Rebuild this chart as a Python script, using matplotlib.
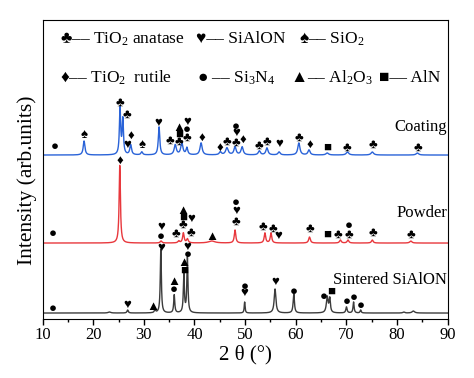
import numpy as np
import matplotlib
matplotlib.use('Agg')
import matplotlib.pyplot as plt
import matplotlib.ticker as ticker

plt.rcParams['font.family'] = ['Liberation Serif', 'DejaVu Sans']
plt.rcParams['mathtext.fontset'] = 'custom'
plt.rcParams['mathtext.rm'] = 'Liberation Serif'
plt.rcParams['mathtext.it'] = 'Liberation Serif'

# peak lists: (2theta, height above baseline, fwhm)
coating_base = 164
coating_peaks = [(18.2, 14, 0.4), (25.3, 46, 0.3), (25.85, 35, 0.3), (27.4, 10, 0.4),
                 (29.6, 3, 0.4), (33.0, 28, 0.35), (36.2, 10, 0.5), (37.5, 12, 0.5),
                 (38.5, 7, 0.4), (41.3, 12, 0.5), (45.1, 3, 0.5), (46.4, 7, 0.6),
                 (48.0, 8, 0.5), (49.4, 8, 0.5), (52.8, 4, 0.5), (54.3, 7, 0.5),
                 (56.7, 3, 0.5), (60.6, 12, 0.5), (62.6, 5, 0.5), (66.2, 2, 0.6),
                 (70.2, 3, 0.6), (75.1, 3, 0.6), (84.0, 2, 0.6)]

powder_base = 76
powder_peaks = [(25.25, 78, 0.3), (33.4, 2, 0.4), (36.9, 2, 0.4), (37.8, 10, 0.35),
                (38.6, 4, 0.4), (43.4, 2, 1.5), (48.0, 13, 0.35), (53.9, 10, 0.35),
                (55.1, 10, 0.35), (62.7, 6, 0.4), (68.8, 3, 0.4), (70.3, 3, 0.4),
                (75.1, 3, 0.4), (82.7, 2, 0.5)]

sintered_base = 6
sintered_peaks = [(23.2, 1, 0.6), (26.8, 3, 0.3), (32.2, 3, 0.3), (33.35, 64, 0.25),
                  (36.0, 18, 0.25), (37.9, 38, 0.25), (38.6, 55, 0.25), (49.9, 11, 0.2),
                  (55.9, 24, 0.4), (59.6, 19, 0.3), (66.2, 16, 0.4), (66.7, 14, 0.3),
                  (70.0, 6, 0.3), (71.4, 11, 0.25), (72.8, 3, 0.25), (81.3, 1, 0.4),
                  (83.2, 2, 0.6)]

# phase markers: (2theta, offset above baseline, symbol)
coating_marks = [(12.5, 8, '●'), (18.2, 20, '♠'), (25.2, 52, '♣'), (26.7, 40, '♣'),
                 (26.7, 10, '♥'), (27.5, 19, '♦'), (29.6, 10, '♠'), (32.8, 32, '♥'),
                 (35.2, 14, '♣'), (37.0, 27, '▲'), (37.0, 20, '■'), (37.0, 13, '♣'),
                 (38.5, 33, '♥'), (38.5, 25, '●'), (38.5, 17, '♣'), (41.5, 17, '♦'),
                 (45.1, 7, '♦'), (46.5, 13, '♣'), (48.2, 28, '●'), (48.2, 22, '♥'),
                 (48.2, 12, '♣'), (49.6, 15, '♦'), (52.8, 9, '♣'), (54.4, 13, '♣'),
                 (56.7, 11, '♥'), (60.7, 17, '♣'), (62.7, 10, '♦'), (66.2, 7, '■'),
                 (70.2, 7, '♣'), (75.2, 10, '♣'), (84.1, 7, '♣')]

powder_marks = [(12.1, 9, '●'), (25.2, 82, '♦'), (33.4, 16, '♥'), (33.4, 6, '●'),
                (36.4, 9, '♣'), (37.8, 32, '▲'), (37.8, 25, '■'), (37.8, 18, '♣'),
                (39.3, 24, '♥'), (39.3, 10, '♣'), (43.4, 6, '▲'), (48.2, 40, '●'),
                (48.2, 32, '♥'), (48.2, 21, '♣'), (53.6, 16, '♣'), (55.4, 14, '♣'),
                (56.5, 7, '♥'), (62.7, 14, '♣'), (66.2, 8, '■'), (68.4, 8, '♣'),
                (70.4, 8, '♣'), (70.4, 17, '●'), (75.2, 10, '♣'), (82.8, 8, '♣')]

sintered_marks = [(12.1, 4, '●'), (26.7, 8, '♥'), (31.8, 6, '▲'), (33.4, 65, '♥'),
                  (36.0, 31, '▲'), (36.0, 23, '●'), (37.9, 50, '▲'), (37.9, 42, '■'),
                  (38.6, 66, '♥'), (38.6, 58, '●'), (49.9, 26, '●'), (49.9, 20, '♥'),
                  (55.9, 31, '♥'), (59.6, 21, '●'), (65.6, 16, '●'), (66.9, 21, '■'),
                  (70.0, 11, '●'), (71.4, 15, '●'), (72.8, 7, '●')]

legend_row1 = ['♣–– TiO$_\\mathrm{2}$ anatase', '♥–– SiAlON', '♠–– SiO$_\\mathrm{2}$']
legend_row2 = ['♦–– TiO$_\\mathrm{2}$  rutile', '● –– Si$_\\mathrm{3}$N$_\\mathrm{4}$',
               '▲–– Al$_\\mathrm{2}$O$_\\mathrm{3}$', '■–– AlN']

traces = [('Coating', coating_base, coating_peaks, coating_marks, '#2a63d8'),
          ('Powder', powder_base, powder_peaks, powder_marks, '#e8383d'),
          ('Sintered SiAlON', sintered_base, sintered_peaks, sintered_marks, '#3c3c3c')]
label_y = [192, 106, 39]

two_theta = np.linspace(10, 90, 4001)


def pattern(base, peaks):
    y = np.full_like(two_theta, float(base))
    for pos, h, w in peaks:
        g = 0.5 * w
        y += h * g**2 / ((two_theta - pos)**2 + g**2)
    return y


fig = plt.figure(figsize=(4.74, 3.78), dpi=100)
ax = fig.add_axes([0.0897, 0.156, 0.855, 0.791])

for (name, base, peaks, marks, color), ly in zip(traces, label_y):
    ax.plot(two_theta, pattern(base, peaks), color=color, lw=1.0)
    for pos, off, sym in marks:
        ax.text(pos, base + off, sym, fontsize=9.5, ha='center', va='center')
    ax.text(89.9, ly, name, fontsize=12, ha='right', va='center')

row1_x = [60, 196, 299]
row2_x = [60, 197, 290, 379]
for s, px in zip(legend_row1, row1_x):
    ax.text((px - 42.5) / 405.5, 0.936, s, transform=ax.transAxes, fontsize=12.5, va='center')
for s, px in zip(legend_row2, row2_x):
    ax.text((px - 42.5) / 405.5, 0.806, s, transform=ax.transAxes, fontsize=12.5, va='center')

ax.set_xlim(10, 90)
ax.set_ylim(0, 299)
ax.set_yticks([])
ax.xaxis.set_major_locator(ticker.MultipleLocator(10))
ax.xaxis.set_minor_locator(ticker.MultipleLocator(5))
ax.tick_params(axis='x', which='major', direction='out', length=4, width=1, labelsize=12, pad=2)
ax.tick_params(axis='x', which='minor', direction='out', length=2.5, width=1)
ax.set_xlabel('2 θ (°)', fontsize=15, labelpad=1)
fig.text(27 / 474, 1 - 180 / 378, 'Intensity (arb.units)', rotation=90,
         fontsize=15.5, ha='center', va='center')

plt.savefig('out.png', dpi=100)
